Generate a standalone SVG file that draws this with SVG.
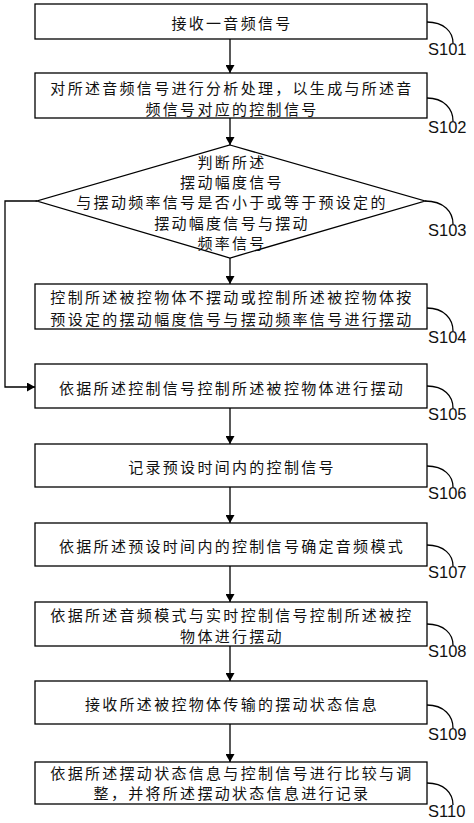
<svg xmlns="http://www.w3.org/2000/svg" width="474" height="823" viewBox="0 0 474 823">
<defs>
<marker id="ah" markerWidth="8" markerHeight="9" refX="8" refY="4.5" orient="auto" markerUnits="userSpaceOnUse">
<path d="M0,0 L8,4.5 L0,9 Z" fill="#000"/>
</marker>
<style>
.box{fill:#fff;stroke:#000;stroke-width:1.3}
.t{font-family:"Noto Sans CJK SC","Noto Sans",sans-serif;font-size:15px;letter-spacing:2.3px;text-anchor:middle;dominant-baseline:central;fill:#111}
.lbl{font-family:"Liberation Sans",Arial,sans-serif;font-size:16.5px;fill:#111}
.c{fill:none;stroke:#000;stroke-width:1.3}
.ln{fill:none;stroke:#000;stroke-width:1.3;marker-end:url(#ah)}
</style>
</defs>
<rect width="474" height="823" fill="#fff"/>
<g id="connectors">
<line class="ln" x1="230" y1="39" x2="230" y2="73"/>
<line class="ln" x1="230" y1="118" x2="230" y2="145"/>
<line class="ln" x1="230" y1="258" x2="230" y2="284"/>
<polyline class="ln" points="37,201 5,201 5,387 35,387"/>
<line class="ln" x1="230" y1="408" x2="230" y2="444"/>
<line class="ln" x1="230" y1="487" x2="230" y2="523"/>
<line class="ln" x1="230" y1="566" x2="230" y2="602"/>
<line class="ln" x1="230" y1="646" x2="230" y2="681"/>
<line class="ln" x1="230" y1="724" x2="230" y2="762"/>
</g>
<g id="S101">
<rect class="box" x="35" y="4" width="392" height="35"/>
<text class="t" x="232" y="22">接收一音频信号</text>
<path class="c" d="M427,22 C444,22 453,32 453,43"/>
<text class="lbl" x="428" y="55">S101</text>
</g>
<g id="S102">
<rect class="box" x="35" y="73" width="392" height="45"/>
<text class="t" x="232" y="87">对所述音频信号进行分析处理，以生成与所述音</text>
<text class="t" x="232" y="108">频信号对应的控制信号</text>
<path class="c" d="M427,98 C444,98 453,109 453,121"/>
<text class="lbl" x="428" y="133">S102</text>
</g>
<g id="S103">
<polygon class="box" points="230,145 425,201 230,258 37,201"/>
<text class="t" x="232" y="161">判断所述</text>
<text class="t" x="232" y="181">摆动幅度信号</text>
<text class="t" x="232" y="201">与摆动频率信号是否小于或等于预设定的</text>
<text class="t" x="232" y="222">摆动幅度信号与摆动</text>
<text class="t" x="232" y="242">频率信号</text>
<path class="c" d="M425,201 C444,201 453,212 453,224"/>
<text class="lbl" x="428" y="236">S103</text>
</g>
<g id="S104">
<rect class="box" x="35" y="284" width="392" height="45"/>
<text class="t" x="232" y="296">控制所述被控物体不摆动或控制所述被控物体按</text>
<text class="t" x="232" y="318">预设定的摆动幅度信号与摆动频率信号进行摆动</text>
<path class="c" d="M427,308 C444,308 453,319 453,331"/>
<text class="lbl" x="428" y="343">S104</text>
</g>
<g id="S105">
<rect class="box" x="35" y="364" width="392" height="44"/>
<text class="t" x="232" y="387">依据所述控制信号控制所述被控物体进行摆动</text>
<path class="c" d="M427,386 C444,386 453,396 453,408"/>
<text class="lbl" x="428" y="420">S105</text>
</g>
<g id="S106">
<rect class="box" x="35" y="444" width="392" height="43"/>
<text class="t" x="232" y="466">记录预设时间内的控制信号</text>
<path class="c" d="M427,466 C444,466 453,476 453,487"/>
<text class="lbl" x="428" y="499">S106</text>
</g>
<g id="S107">
<rect class="box" x="35" y="523" width="392" height="43"/>
<text class="t" x="232" y="545">依据所述预设时间内的控制信号确定音频模式</text>
<path class="c" d="M427,545 C444,545 453,555 453,566"/>
<text class="lbl" x="428" y="578">S107</text>
</g>
<g id="S108">
<rect class="box" x="35" y="602" width="392" height="44"/>
<text class="t" x="232" y="614">依据所述音频模式与实时控制信号控制所述被控</text>
<text class="t" x="232" y="635">物体进行摆动</text>
<path class="c" d="M427,624 C444,624 453,634 453,645"/>
<text class="lbl" x="428" y="657">S108</text>
</g>
<g id="S109">
<rect class="box" x="35" y="681" width="392" height="43"/>
<text class="t" x="232" y="703">接收所述被控物体传输的摆动状态信息</text>
<path class="c" d="M427,705 C444,705 453,716 453,728"/>
<text class="lbl" x="428" y="740">S109</text>
</g>
<g id="S110">
<rect class="box" x="35" y="762" width="392" height="42"/>
<text class="t" x="232" y="772">依据所述摆动状态信息与控制信号进行比较与调</text>
<text class="t" x="232" y="792">整，并将所述摆动状态信息进行记录</text>
<path class="c" d="M427,783 C444,783 453,793 453,805"/>
<text class="lbl" x="428" y="817">S110</text>
</g>
</svg>
